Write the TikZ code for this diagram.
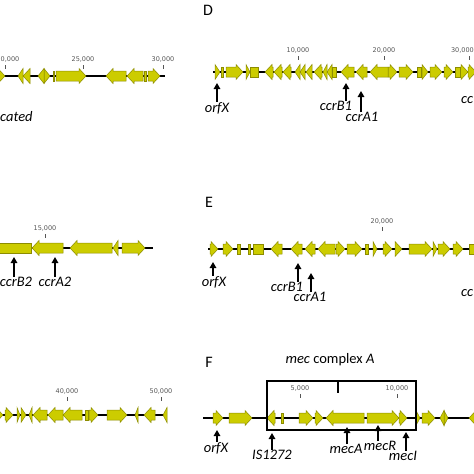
\documentclass[tikz,border=0pt]{standalone}
\usepackage{fontspec}
\setmainfont{Carlito}
\newfontfamily\tickfont{DejaVu Sans}
\usetikzlibrary{arrows.meta}
\definecolor{genefill}{RGB}{204,204,0}
\definecolor{genedraw}{RGB}{140,140,0}
\definecolor{tickgray}{RGB}{85,85,85}
\tikzset{
  gene/.style={fill=genefill,draw=genedraw,line width=0.5pt},
  backbone/.style={line width=1.1pt},
  ticklab/.style={font=\tickfont\fontsize{6.5}{7}\selectfont,text=tickgray,inner sep=0pt},
  genelab/.style={font=\fontsize{14.5}{15}\selectfont\itshape,inner sep=0pt},
  labarrow/.style={line width=1.4pt,-{Triangle[length=6pt,width=6.5pt]}},
  panel/.style={font=\fontsize{16}{18}\selectfont,inner sep=0pt}
}
% genes: start, end, y of the line
\newcommand{\gR}[3]{%
  \pgfmathsetmacro\hl{min(7,#2-#1)}%
  \filldraw[gene] (#1,#3-5) -- ({#2-\hl},#3-5) -- ({#2-\hl},#3-7.5) -- (#2,#3)
    -- ({#2-\hl},#3+7.5) -- ({#2-\hl},#3+5) -- (#1,#3+5) -- cycle;}
\newcommand{\gL}[3]{%
  \pgfmathsetmacro\hl{min(7,#2-#1)}%
  \filldraw[gene] (#2,#3-5) -- ({#1+\hl},#3-5) -- ({#1+\hl},#3-7.5) -- (#1,#3)
    -- ({#1+\hl},#3+7.5) -- ({#1+\hl},#3+5) -- (#2,#3+5) -- cycle;}
\newcommand{\gB}[3]{\filldraw[gene] (#1,#3-5) rectangle (#2,#3+5);}
% scale tick: x, y of the label, label
\newcommand{\kb}[3]{%
  \draw[tickgray,line width=0.6pt] (#1,#2+6) -- (#1,#2+10);
  \node[ticklab] at (#1,#2) {#3};}

\begin{document}
\begin{tikzpicture}[x=1pt,y=-1pt]
\useasboundingbox (0,0) rectangle (474,474);

% top left (cut off)
\draw[backbone] (0,76) -- (165,76);
\draw[tickgray,line width=0.6pt] (5,65) -- (5,69);
\node[ticklab,anchor=west] (k20) at (0.5,59) {0,000};
\kb{83}{59}{25,000} \kb{163}{59}{30,000}
\foreach \a/\b in {-5/5,44/50,56/86,148/160} \gR{\a}{\b}{76};
\foreach \a/\b in {18/23,23/30,38/44,106/126,127/143} \gL{\a}{\b}{76};
\foreach \a/\b in {53/54.5,144/146} \gB{\a}{\b}{76};
\node[genelab,anchor=west] (trunc) at (0,117) {cated};

% D
\node[panel] (pD) at (208,10) {D};
\draw[backbone] (213,72) -- (474,72);
\kb{298}{50}{10,000} \kb{384}{50}{20,000}
\draw[tickgray,line width=0.6pt] (469,56) -- (469,60);
\node[ticklab,anchor=east] (k30d) at (474,50) {30,000};
\foreach \a/\b in {215/220,226/243,246/250,388/397,399/413,422/428,430/442,444/453,460/468,468/476} \gR{\a}{\b}{72};
\foreach \a/\b in {265/273,274/282,283/291,295/300,300/305,306/312,314/322,323/327,327/332,341/354,356/367,370/388} \gL{\a}{\b}{72};
\foreach \a/\b in {221/223,250/258,332/336,417/421,455/460} \gB{\a}{\b}{72};
\node[genelab] (orfXd) at (217,108) {orfX};
\node[genelab] (ccrBd) at (336,106) {ccrB1};
\node[genelab] (ccrAd) at (362,117) {ccrA1};
\node[genelab,anchor=west] (ccCd) at (461,100) {cc};
\coordinate (orfXdt) at (217,83);
\coordinate (ccrBdt) at (346,83);
\coordinate (ccrAdt) at (361,91);
\draw[labarrow] (orfXd.north -| orfXdt) -- (orfXdt);
\draw[labarrow] (ccrBd.north -| ccrBdt) -- (ccrBdt);
\draw[labarrow] (ccrAd.north -| ccrAdt) -- (ccrAdt);

% middle left (cut off)
\draw[backbone] (0,248) -- (153,248);
\kb{45}{228}{15,000}
\gB{-2}{31}{248}
\foreach \a/\b in {32/63,70/112,113/118} \gL{\a}{\b}{248};
\gR{122}{145}{248}
\node[genelab] (ccrBb) at (16,282) {ccrB2};
\node[genelab] (ccrAb) at (55,282) {ccrA2};
\coordinate (ccrBbt) at (14,257);
\coordinate (ccrAbt) at (55,257);
\draw[labarrow] (ccrBb.north -| ccrBbt) -- (ccrBbt);
\draw[labarrow] (ccrAb.north -| ccrAbt) -- (ccrAbt);

% E
\node[panel] (pE) at (209,202) {E};
\draw[backbone] (208,249) -- (474,249);
\kb{382}{221}{20,000}
\foreach \a/\b in {210/218,223/233,336/345,347/362,373/377,383/392,395/402,409/432,433/437,438/450,453/463} \gR{\a}{\b}{249};
\foreach \a/\b in {271/282,291/302,305/315,318/335} \gL{\a}{\b}{249};
\foreach \a/\b in {237/240,248/250,253/263,365/368,469/476} \gB{\a}{\b}{249};
\node[genelab] (orfXe) at (214,282) {orfX};
\node[genelab] (ccrBe) at (287,287) {ccrB1};
\node[genelab] (ccrAe) at (310,297) {ccrA1};
\node[genelab,anchor=west] (ccCe) at (461,293) {cc};
\coordinate (orfXet) at (213,262);
\coordinate (ccrBet) at (298,263);
\coordinate (ccrAet) at (311,273);
\draw[labarrow] (orfXe.north -| orfXet) -- (orfXet);
\draw[labarrow] (ccrBe.north -| ccrBet) -- (ccrBet);
\draw[labarrow] (ccrAe.north -| ccrAet) -- (ccrAet);

% bottom left (cut off)
\draw[backbone] (0,415) -- (167,415);
\kb{67}{391}{40,000} \kb{161}{391}{50,000}
\foreach \a/\b in {-5/3,5/13,17/20,21/26,89/98,107/127} \gR{\a}{\b}{415};
\foreach \a/\b in {29/32,33/47,48/63,63/82,135/138,144/155,163/167} \gL{\a}{\b}{415};
\gB{85}{88}{415}

% F
\node[panel] (pF) at (209,362) {F};
\draw[backbone] (203,418) -- (474,418);
\kb{300}{388}{5,000} \kb{397}{388}{10,000}
\foreach \a/\b in {213/223,229/252,299/313,315/323,367/399,399/407,416/420,422/435,444/448} \gR{\a}{\b}{418};
\foreach \a/\b in {267/275,326/364,440/444,469/476} \gL{\a}{\b}{418};
\gB{281}{283}{418}
\node[draw,line width=1.1pt,minimum width=149pt,minimum height=49pt,inner sep=0pt] (mecbox) at (341.5,405.5) {};
\node[font=\fontsize{14.5}{15}\selectfont,inner sep=0pt] (mecl) at (330,360) {\textit{mec} complex \textit{A}};
\draw[line width=1.1pt] ([xshift=-3.5pt]mecbox.north) -- ++(0,13);
\node[genelab] (orfXf) at (216,448) {orfX};
\node[genelab] (ISf) at (272,455) {IS1272};
\node[genelab] (mecAf) at (346,449) {mecA};
\node[genelab] (mecRf) at (380,446) {mecR};
\node[genelab] (mecIf) at (403,456) {mecI};
\coordinate (orfXft) at (217,430);
\coordinate (ISft) at (272,433);
\coordinate (mecAft) at (347,427);
\coordinate (mecRft) at (378,425);
\coordinate (mecIft) at (406,432);
\draw[labarrow] (orfXf.north -| orfXft) -- (orfXft);
\draw[labarrow] (ISf.north -| ISft) -- (ISft);
\draw[labarrow] (mecAf.north -| mecAft) -- (mecAft);
\draw[labarrow] (mecRf.north -| mecRft) -- (mecRft);
\draw[labarrow] (mecIf.north -| mecIft) -- (mecIft);
\end{tikzpicture}
\end{document}
